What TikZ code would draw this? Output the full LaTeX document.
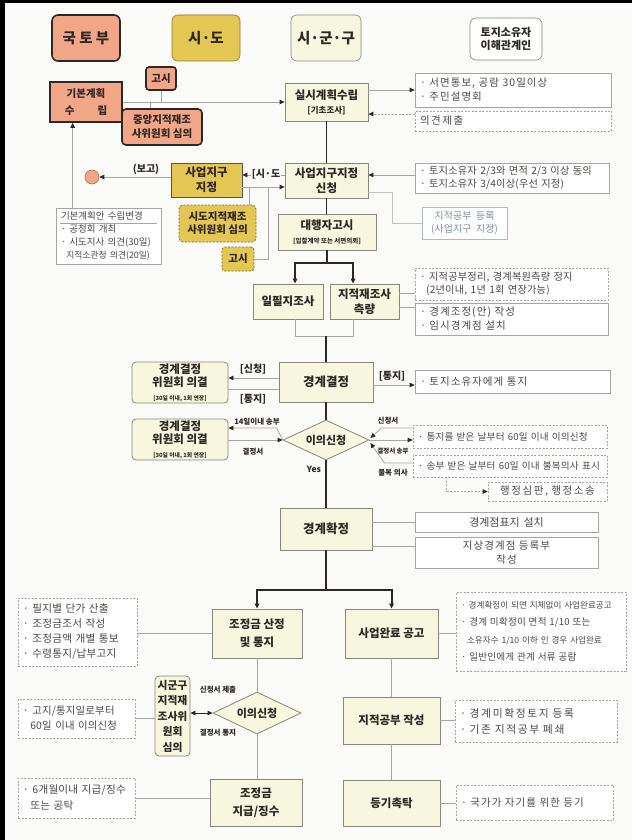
\documentclass[tikz,border=0pt]{standalone}
\usepackage{fontspec}
\setmainfont{Noto Sans CJK KR}
\newfontfamily\sdf[LetterSpace=2,WordSpace=2]{Noto Sans CJK KR}
\newfontfamily\sdfb[LetterSpace=10,WordSpace=2]{Noto Sans CJK KR}
\newfontfamily\sdfc[LetterSpace=15,WordSpace=2]{Noto Sans CJK KR}
\usetikzlibrary{shapes.geometric,arrows.meta,calc}
\definecolor{salmon}{RGB}{242,166,136}
\definecolor{gold}{RGB}{228,198,82}
\definecolor{pale}{RGB}{246,247,222}
\definecolor{bg}{RGB}{250,250,248}
\definecolor{dk}{RGB}{45,40,38}
\definecolor{gl}{RGB}{165,165,165}
\definecolor{boxgray}{RGB}{135,135,125}
\definecolor{bluegray}{RGB}{120,140,165}
\begin{document}
\begin{tikzpicture}[x=1pt,y=-1pt,
  sz/.style 2 args={minimum width=#1,minimum height=#2,inner sep=0pt},
  hdr/.style={rounded corners=6pt,font=\bfseries\fontsize{14.5}{16}\selectfont,align=center,text=dk},
  sal/.style={draw=dk,line width=1.6pt,fill=salmon,font=\bfseries\fontsize{10.5}{13}\selectfont,align=center,text=dk},
  gld/.style={draw=gold!55!black,line width=0.8pt,fill=gold,font=\bfseries\fontsize{10.5}{13}\selectfont,align=center,text=dk},
  mbox/.style={draw=boxgray,line width=0.8pt,fill=pale,font=\bfseries\fontsize{11.5}{15}\selectfont,align=center,text=dk},
  sbox/.style={draw=gl,line width=0.7pt,fill=white,font=\sdf\fontsize{9.6}{13}\selectfont,align=left,text=dk!85,inner xsep=5pt,inner ysep=0pt},
  sboxd/.style={sbox,dash pattern=on 2pt off 1.5pt},
  dia/.style={diamond,draw=boxgray,line width=0.8pt,fill=pale,font=\bfseries\fontsize{11}{12}\selectfont,text=dk,inner sep=0pt,shape aspect=2},
  lbl/.style={font=\bfseries\fontsize{10}{11}\selectfont,text=dk,inner sep=1pt},
  slbl/.style={font=\bfseries\fontsize{7.5}{8}\selectfont,text=dk,inner sep=1pt},
  mline/.style={draw=dk,line width=1.4pt},
  thk/.style={draw=dk,line width=2pt},
  gline/.style={draw=gl,line width=0.8pt},
  arr/.style={-{Triangle[length=5pt,width=4.5pt,color=dk]}},
  dashln/.style={dash pattern=on 2pt off 1.5pt}]
\useasboundingbox (0,0) rectangle (632,840);
\fill[black] (0,0) rectangle (632,840);
\fill[bg] (5,3) rectangle (632,840);

% headers
\node[hdr,draw=dk,line width=1.6pt,fill=salmon,sz={68pt}{46pt}] (h1) at (86,38) {국 토 부};
\node[hdr,draw=gold!60!black,line width=0.6pt,fill=gold,sz={68pt}{46pt}] (h2) at (206,38) {시·도};
\node[hdr,draw=boxgray,line width=0.6pt,fill=pale,sz={70pt}{46pt}] (h3) at (326,38) {시·군·구};
\node[hdr,draw=boxgray,line width=0.6pt,fill=white,sz={72pt}{42pt},font=\bfseries\fontsize{11}{13.5}\selectfont] (h4) at (506,39) {토지소유자\\이해관계인};

% top row
\node[sal,sz={72pt}{40pt},font=\bfseries\fontsize{10.5}{17}\selectfont] (bp) at (86,102) {기본계획\\수\hspace{2.2em}립};
\node[sal,rounded corners=3pt,sz={30pt}{23pt}] (g1) at (161,78.5) {고시};
\node[sal,rounded corners=4pt,sz={80pt}{36pt},font=\bfseries\fontsize{10.5}{14}\selectfont] (cc) at (162,127) {중앙지적재조\\사위원회 심의};
\node[mbox,sz={83pt}{38pt},font=\bfseries\fontsize{11.5}{14}\selectfont] (si) at (326.5,102) {실시계획수립\\{\fontsize{8.5}{10}\selectfont [기초조사]}};
\node[sbox,text width=186pt,minimum height=34pt,font=\sdfb\fontsize{10.5}{14}\selectfont] (rb1) at (513,90) {· 서면통보, 공람 30일이상\\· 주민설명회};
\node[sboxd,text width=186pt,minimum height=20pt,font=\sdfc\fontsize{10.5}{13}\selectfont] (rb2) at (513,121) {의견제출};

\draw[gline,arr] (bp.east) -- (si.west |- bp.east);
\draw[gline] (g1.south) -- (g1.south |- bp.east);
\coordinate (c1) at ($(cc.north)+(-12,0)$);
\draw[gline] (c1) -- (c1 |- bp.east);
\draw[gline,arr] (si.east |- rb1.west) -- (rb1.west);
\coordinate (c2) at ($(rb2.west)+(0,-7)$);
\draw[gline,dashln,arr] (c2) -- (c2 -| si.east);

% second row
\node[mbox,sz={83pt}{35pt}] (sj) at (326.5,180.5) {사업지구지정\\신청};
\node[gld,draw=dk!80,sz={71pt}{34pt},font=\bfseries\fontsize{11.5}{15}\selectfont] (sg1) at (206.5,180) {사업지구\\지정};
\node[circle,draw=salmon!70!black,line width=0.6pt,fill=salmon,minimum size=14pt,inner sep=0pt] (ci) at (92,177) {};
\node[lbl] (lb1) at (146,169) {(보고)};
\draw[gline,arr] (sg1.west |- ci) -- (ci);
\draw[mline] (si.south) -- (sj.north);

\coordinate (c3) at ($(sj.west)+(0,-5.5)$);
\draw[gline,arr] (c3) -- (c3 -| sg1.east);
\node[lbl,fill=bg] (lb2) at (266,174) {[시·도};
\coordinate (c4) at ($(sg1.east)+(0,7)$);
\draw[gline,arr] (c4) -- (c4 -| sj.west);

\node[gld,rounded corners=4pt,dashln,sz={77pt}{37pt}] (sido) at (217.5,223.5) {시도지적재조\\사위원회 심의};
\node[gld,rounded corners=3pt,dashln,sz={32pt}{24pt}] (g2) at (238,259) {고시};
\coordinate (c5) at ($(c4)+(7,0)$);
\draw[gline] (c5) -- (c5 |- sido.north);
\coordinate (c6) at ($(c4)+(26,0)$);
\draw[gline] (c6) |- (g2.east);

\node[sbox,text width=184pt,minimum height=30pt,font=\sdf\fontsize{10.2}{13.5}\selectfont] (rb3) at (512,178) {· 토지소유자 2/3와 면적 2/3 이상 동의\\· 토지소유자 3/4이상(우선 지정)};
\draw[gline,arr] (rb3.west |- c3) -- (sj.east |- c3);
\node[draw=bluegray!60,line width=0.7pt,fill=white,text=bluegray,font=\sdf\fontsize{9.8}{13.5}\selectfont,align=center,sz={85pt}{32pt}] (jgd) at (464.5,223) {지적공부 등록\\(사업지구 지정)};
\coordinate (c7) at ($(sj.east)+(0,12)$);
\draw[gline,draw=gl!70] (c7) -- ++(24,0) |- (jgd.west);

\node[sbox,text width=95pt,minimum height=56pt,font=\fontsize{9.5}{12.8}\selectfont] (bk) at (108.5,236) {기본계획안 수립변경\\· 공청회 개최\\· 시도지사 의견(30일)\\{\fontsize{8.8}{12.8}\selectfont\hspace{0.6em}지적소관청 의견(20일)}};
\draw[gline] ($(bk.north west)+(4,16)$) -- ($(bk.north east)+(-4,16)$);
\coordinate (c19) at ($(bk.north west)+(17,0)$);
\draw[gline,arr] (c19) -- (c19 |- bp.south);

% 대행자고시
\node[mbox,sz={98pt}{36pt},font=\bfseries\fontsize{11.5}{14}\selectfont] (dh) at (327,232) {대행자고시\\{\fontsize{6.5}{8}\selectfont [입찰계약 또는 서면의뢰]}};
\draw[mline] (sj.south) -- (sj.south |- dh.north);
\node[mbox,sz={70pt}{35pt}] (il) at (288,301.5) {일필지조사};
\node[mbox,sz={69pt}{35pt}] (js) at (364.5,301.5) {지적재조사\\측량};
\coordinate (sp1) at ($(dh.south)+(0,13)$);
\draw[thk] (dh.south) -- (sp1);
\draw[thk,arr] (sp1) -| ($(il.north)+(7,0)$);
\draw[thk,arr] (sp1) -| ($(js.north)+(-11.5,0)$);
\coordinate (j1) at ($(il.south)+(7,17)$);
\coordinate (j2) at ($(js.south)+(-11.5,17)$);
\draw[gline] ($(il.south)+(7,0)$) -- (j1) -- (j2) -- ($(js.south)+(-11.5,0)$);

\node[sboxd,text width=183pt,minimum height=32pt,font=\sdf\fontsize{10.2}{13.5}\selectfont] (rb4) at (511.5,284) {· 지적공부정리, 경계복원측량 정지\\\hspace{0.6em}(2년이내, 1년 1회 연장가능)};
\node[sbox,text width=183pt,minimum height=32pt,font=\sdfb\fontsize{10.5}{14}\selectfont] (rb5) at (511.5,319) {· 경계조정(안) 작성\\· 임시경계점 설치};
\coordinate (c8) at ($(js.east)+(0,-8)$);
\draw[gline] (c8) -- (c8 -| rb4.west);
\coordinate (c9) at ($(js.east)+(0,6)$);
\draw[gline] (c9) -- (c9 -| rb5.west);

% 경계결정
\node[mbox,sz={94pt}{40pt},font=\bfseries\fontsize{12.5}{14}\selectfont] (gy) at (326,382) {경계결정};
\draw[mline] (gy.north |- j1) -- (gy.north);
\node[mbox,rounded corners=4pt,sz={96pt}{41pt},font=\bfseries\fontsize{11.5}{13.5}\selectfont] (wc1) at (180,382.5) {경계결정\\위원회 의결\\{\fontsize{5.8}{7}\selectfont [30일 이내, 1회 연장]}};
\coordinate (c10) at ($(gy.west)+(0,-4)$);
\draw[gline,arr] (c10) -- (c10 -| wc1.east);
\node[lbl] (lb3) at (253,369) {[신청]};
\coordinate (c11) at ($(wc1.east)+(0,7)$);
\draw[gline] (c11) -- (c11 -| gy.west);
\node[lbl] (lb4) at (253,399) {[통지]};
\node[sbox,text width=185pt,minimum height=23pt,font=\sdfb\fontsize{10.5}{13}\selectfont] (rb6) at (512.5,381.5) {· 토지소유자에게 통지};
\coordinate (c12) at ($(gy.east)+(0,3)$);
\draw[gline,arr] (c12) -- (c12 -| rb6.west);
\node[lbl] (lb5) at (392,376) {[통지]};

% 이의신청 1
\node[dia,minimum width=86pt,minimum height=40pt] (d1) at (326,440) {이의신청};
\draw[mline] (gy) -- (d1);
\node[mbox,rounded corners=4pt,sz={96pt}{41pt},font=\bfseries\fontsize{11.5}{13.5}\selectfont] (wc2) at (180,439.5) {경계결정\\위원회 의결\\{\fontsize{5.8}{7}\selectfont [30일 이내, 1회 연장]}};
\coordinate (c13) at ($(d1.west)+(-6,-12)$);
\draw[gline,arr] (d1.west) -- (c13) -- (c13 -| wc2.east);
\node[slbl] (lb6) at (257,422) {14일이내 송부};
\draw[gline,arr] (wc2.east |- d1.west) -- (d1.west);
\node[slbl] (lb7) at (253,452) {결정서};

\node[sboxd,text width=184pt,minimum height=23pt] (rb7) at (510,436.5) {· 통지를 받은 날부터 60일 이내 이의신청};
\node[sboxd,text width=184pt,minimum height=22pt] (rb8) at (510,466) {· 송부 받은 날부터 60일 이내 불복의사 표시};
\node[sboxd,text width=109pt,minimum height=19pt,align=center,font=\sdfc\fontsize{10.5}{13}\selectfont] (rb9) at (547.5,491.5) {행정심판, 행정소송};
\coordinate (c14) at ($(rb7.west)+(0,-8.5)$);
\coordinate (c15) at ($(c14 -| d1.east)+(12,0)$);
\draw[gline,arr] (c14) -- (c15) -- ($(d1.east)+(1,-2)$);
\node[slbl] (lb8) at (388,421) {신청서};
\draw[gline,arr] (d1.east) -- (d1.east -| rb7.west);
\coordinate (c16) at ($(rb8.west)+(0,-3)$);
\draw[gline,arr] (c16) -- ($(c16 -| d1.east)+(15,0)$) -- ($(d1.east)+(1,3)$);
\node[slbl,font=\bfseries\fontsize{6.5}{7}\selectfont] (lb9) at (393,451) {결정서 송부};
\node[slbl] (lb10) at (393,473) {불복 의사};
\coordinate (c17) at ($(rb8.south west)+(34,0)$);
\draw[gline,dashln,arr] (c17) |- (rb9.west);
\node[font=\bfseries\fontsize{8.5}{9}\selectfont,text=dk,inner sep=1pt] (yes) at (314,469) {Yes};

% 경계확정
\node[mbox,sz={92pt}{42pt},font=\bfseries\fontsize{12.5}{14}\selectfont] (hj) at (326,529) {경계확정};
\draw[mline] (d1) -- (hj);
\node[sbox,text width=173pt,minimum height=20pt,align=center,font=\fontsize{11}{13}\selectfont] (rb10) at (506.5,522) {경계점표지 설치};
\node[sbox,text width=173pt,minimum height=31pt,align=center,font=\sdfb\fontsize{10.5}{14}\selectfont] (rb11) at (506.5,552.5) {지상경계점 등록부\\작성};
\draw[gline] (hj.east |- rb10.west) -- (rb10.west);
\coordinate (c18) at ($(hj.east)+(0,17)$);
\draw[gline] (c18) -- (c18 -| rb11.west);

% split 2
\node[mbox,sz={90pt}{49pt},font=\bfseries\fontsize{11.5}{18}\selectfont] (jj1) at (257,633.5) {조정금 산정\\및 통지};
\node[mbox,sz={93pt}{49pt}] (sw) at (391.5,633.5) {사업완료 공고};
\coordinate (sp2) at ($(hj.south)+(0,40)$);
\draw[thk] (hj.south) -- (sp2);
\draw[thk,arr] (sp2) -| (jj1.north);
\draw[thk,arr] (sp2) -| (sw.north);
\node[sboxd,text width=109pt,minimum height=68pt,font=\sdf\fontsize{10.6}{15}\selectfont] (rb12) at (77.5,632) {· 필지별 단가 산출\\· 조정금조서 작성\\· 조정금액 개별 통보\\· 수령통지/납부고지};
\node[sboxd,text width=160pt,minimum height=79pt,font=\fontsize{8.6}{17.5}\selectfont] (rb13) at (541,631.5) {· 경계확정이 되면 지체없이 사업완료공고\\{\sdf\fontsize{9.6}{17.5}\selectfont · 경계 미확정이 면적 1/10 또는}\\\hspace{0.7em}소유자수 1/10 이하 인 경우 사업완료\\{\sdf\fontsize{9.6}{17.5}\selectfont · 일반인에게 관계 서류 공람}};
\draw[gline] (rb12.east |- jj1.west) -- (jj1.west);
\draw[gline] (sw.east) -- (sw.east -| rb13.west);

% lower part
\node[mbox,rounded corners=4pt,sz={35pt}{80pt},font=\bfseries\fontsize{10.8}{15.5}\selectfont] (sgg) at (172.5,716) {시군구\\지적재\\조사위\\원회\\심의};
\node[dia,minimum width=88pt,minimum height=42pt] (d2) at (257,713) {이의신청};
\node[mbox,sz={92pt}{47pt},font=\bfseries\fontsize{11.5}{18}\selectfont] (jj2) at (256,802.5) {조정금\\지급/징수};
\draw[gline] (jj1.south) -- (jj1.south |- d2.north);
\draw[gline] (d2.south) -- (d2.south |- jj2.north);
\draw[draw=dk,line width=0.8pt,{Triangle[length=5pt,width=4.5pt]}-{Triangle[length=5pt,width=4.5pt]}] (sgg.east |- d2.west) -- (d2.west);
\node[slbl] (lb11) at (218,690) {신청서 제출};
\node[slbl] (lb12) at (218,733) {결정서 통지};
\node[sboxd,text width=107pt,minimum height=39pt,font=\sdf\fontsize{10.4}{15}\selectfont] (rb14) at (76.5,718.5) {· 고지/통지일로부터\\\hspace{0.7em}60일 이내 이의신청};
\draw[gline] (rb14.east) -- (rb14.east -| sgg.west);

\node[mbox,sz={97pt}{47pt}] (jg2) at (391.5,720.5) {지적공부 작성};
\node[mbox,sz={97pt}{46pt}] (dg) at (391.5,803) {등기촉탁};
\draw[gline] (sw) -- (jg2);
\draw[gline] (jg2) -- (dg);
\node[sboxd,text width=152pt,minimum height=42pt,font=\sdfc\fontsize{10.8}{16}\selectfont] (rb15) at (536,721) {· 경계미확정토지 등록\\· 기존 지적공부 폐쇄};
\node[sboxd,text width=147pt,minimum height=35pt,font=\sdfb\fontsize{10.5}{13}\selectfont] (rb16) at (534.5,802.5) {· 국가가 자기를 위한 등기};
\node[sboxd,text width=107pt,minimum height=40pt,font=\sdf\fontsize{10.6}{16}\selectfont] (rb17) at (76.5,798) {· 6개월이내 지급/징수\\\hspace{0.7em}또는 공탁};
\draw[gline] (jg2.east) -- (jg2.east -| rb15.west);
\draw[gline] (rb17.east) -- (rb17.east -| jj2.west);
\draw[gline] (dg.east) -- (dg.east -| rb16.west);
\end{tikzpicture}
\end{document}
